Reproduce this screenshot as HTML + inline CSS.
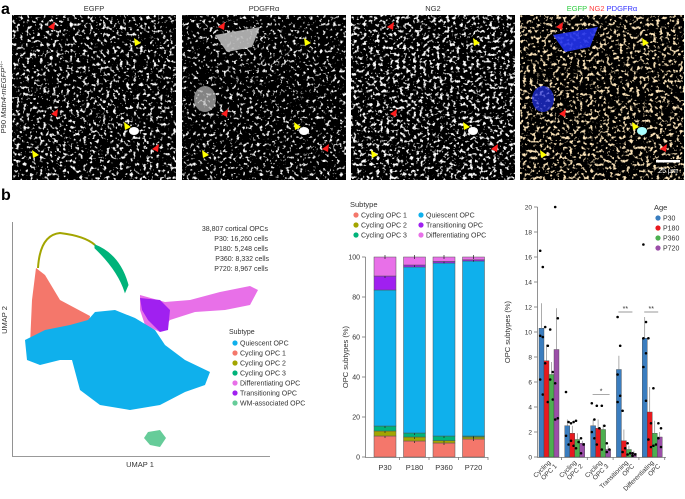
<!DOCTYPE html>
<html><head><meta charset="utf-8">
<style>
body{margin:0;background:#fff;width:685px;height:499px;overflow:hidden;font-family:"Liberation Sans",sans-serif}
svg{display:block}
text{font-family:"Liberation Sans",sans-serif;fill:#333}
</style></head><body>
<svg id="fig" width="685" height="499" viewBox="0 0 685 499">
<defs>
<filter id="fgray" x="0" y="0" width="100%" height="100%">
<feTurbulence type="fractalNoise" baseFrequency="0.3" numOctaves="2" seed="3"/>
<feColorMatrix type="matrix" values="1 0 0 0 0 1 0 0 0 0 1 0 0 0 0 0 0 0 0 1"/>
<feComponentTransfer><feFuncR type="linear" slope="6" intercept="-3.5"/><feFuncG type="linear" slope="6" intercept="-3.5"/><feFuncB type="linear" slope="6" intercept="-3.5"/><feFuncA type="linear" slope="0" intercept="1"/></feComponentTransfer>
</filter>
<filter id="fgray2" x="0" y="0" width="100%" height="100%">
<feTurbulence type="fractalNoise" baseFrequency="0.3" numOctaves="2" seed="7"/>
<feColorMatrix type="matrix" values="1 0 0 0 0 1 0 0 0 0 1 0 0 0 0 0 0 0 0 1"/>
<feComponentTransfer><feFuncR type="linear" slope="6" intercept="-3.6"/><feFuncG type="linear" slope="6" intercept="-3.6"/><feFuncB type="linear" slope="6" intercept="-3.6"/><feFuncA type="linear" slope="0" intercept="1"/></feComponentTransfer>
</filter>
<filter id="fgray3" x="0" y="0" width="100%" height="100%">
<feTurbulence type="fractalNoise" baseFrequency="0.3" numOctaves="2" seed="11"/>
<feColorMatrix type="matrix" values="1 0 0 0 0 1 0 0 0 0 1 0 0 0 0 0 0 0 0 1"/>
<feComponentTransfer><feFuncR type="linear" slope="6" intercept="-3.4"/><feFuncG type="linear" slope="6" intercept="-3.4"/><feFuncB type="linear" slope="6" intercept="-3.4"/><feFuncA type="linear" slope="0" intercept="1"/></feComponentTransfer>
</filter>
<filter id="fcol" x="0" y="0" width="100%" height="100%">
<feTurbulence type="fractalNoise" baseFrequency="0.3" numOctaves="2" seed="5"/>
<feColorMatrix type="matrix" values="1 0 0 0 0 1 0 0 0 0 1 0 0 0 0 0 0 0 0 1"/>
<feComponentTransfer><feFuncR type="linear" slope="6" intercept="-3.4"/><feFuncG type="linear" slope="6" intercept="-3.4"/><feFuncB type="linear" slope="6" intercept="-3.4"/><feFuncA type="linear" slope="0" intercept="1"/></feComponentTransfer>
<feColorMatrix type="matrix" values="1 0 0 0 0 0 0.8 0 0 0 0 0 0.5 0 0 0 0 0 0 1"/>
</filter>
</defs>

<text x="1" y="14" font-size="16" font-weight="bold" style="fill:#000">a</text>
<text x="6" y="97" font-size="7.5" transform="rotate(-90 6 97)" text-anchor="middle">P90 <tspan font-style="italic">Matn4-mEGFP</tspan><tspan font-size="5" dy="-3">+/−</tspan></text>
<text x="94" y="11" font-size="7.5" text-anchor="middle">EGFP</text>
<text x="264" y="11" font-size="7.5" text-anchor="middle">PDGFRα</text>
<text x="433" y="11" font-size="7.5" text-anchor="middle">NG2</text>
<text x="602" y="11" font-size="7.5" text-anchor="middle"><tspan style="fill:#2ecc40">EGFP</tspan> <tspan style="fill:#ff4040">NG2</tspan> <tspan style="fill:#3333ff">PDGFRα</tspan></text>
<g id="panels"></g>

<text x="1" y="200" font-size="16" font-weight="bold" style="fill:#000">b</text>
<g id="umap">
<line x1="12.5" y1="222" x2="12.5" y2="456" stroke="#777" stroke-width="0.8"/>
<line x1="12" y1="456.5" x2="270" y2="456.5" stroke="#777" stroke-width="0.8"/>
<text x="7" y="320" font-size="7.5" text-anchor="middle" transform="rotate(-90 7 320)">UMAP 2</text>
<text x="140" y="467" font-size="7.5" text-anchor="middle">UMAP 1</text>
<path d="M38,268 Q40,235 60,233 Q85,236 95,245" fill="none" stroke="#a3a500" stroke-width="2"/>
<path d="M95,245 Q120,255 128,285 L125,292 Q118,270 95,248Z" fill="#00b37a" stroke="#00b37a" stroke-width="1"/>
<path d="M36,268 L45,275 L60,300 L90,316 L88,330 L70,335 L45,340 L30,345 L32,300Z" fill="#f4776b"/>
<path d="M140,295 L165,302 L190,300 L220,292 L250,286 L258,290 L250,305 L225,310 L195,312 L170,320 L160,332 L145,325 L140,310Z" fill="#e870e8"/>
<path d="M140,298 L160,300 L170,310 L168,330 L160,332 L148,320 L142,310Z" fill="#a020f0"/>
<path d="M95,312 L115,310 L135,318 L155,330 L165,345 L185,360 L210,372 L205,385 L185,392 L160,405 L130,410 L100,405 L80,390 L72,360 L60,360 L40,365 L27,360 L25,340 L45,330 L70,325 L88,320Z" fill="#0fb0ec"/>
<path d="M148,432 L160,430 L166,438 L160,447 L150,445 L144,438Z" fill="#66cc99"/>
<g font-size="7" text-anchor="end">
<text x="268" y="231">38,807 cortical OPCs</text>
<text x="268" y="241">P30: 16,260 cells</text>
<text x="268" y="251">P180: 5,248 cells</text>
<text x="269" y="261">P360: 8,332 cells</text>
<text x="268" y="271">P720: 8,967 cells</text>
</g>
<g id="umapLegend" font-size="7">
<text x="229" y="334">Subtype</text>
</g>
</g>

<g id="stack"></g>
<g id="dots"></g>
</svg>
<script>
const NS='http://www.w3.org/2000/svg';
function mk(parent,tag,attrs,txt){const e=document.createElementNS(NS,tag);for(const k in attrs)e.setAttribute(k,attrs[k]);if(txt!==undefined)e.textContent=txt;parent.appendChild(e);return e;}

const panelsG=document.getElementById('panels');
const panelX=[12,182,351,520];
const filters=['fgray','fgray2','fgray3','fcol'];
const redArrows=[[36,9],[39,96],[140,131]];
const yelArrows=[[121,25],[111,109],[19,137]];
panelX.forEach((px,i)=>{
  const g=mk(panelsG,'g',{});
  
  
  mk(g,'rect',{x:px,y:15,width:164,height:165,fill:'#000'});
  mk(g,'rect',{x:px,y:15,width:164,height:165,filter:'url(#'+filters[i]+')'});
  if(i===1||i===3){
    const c=i===1?'#bbbbbb':'#2233ee';
    mk(g,'path',{d:`M${px+33},${15+20} L${px+78},${15+12} L${px+70},${15+32} L${px+45},${15+37} Z`,fill:c,opacity:0.9});
    mk(g,'ellipse',{cx:px+23,cy:15+84,rx:11,ry:13,fill:c,opacity:0.7});
  }
  mk(g,'ellipse',{cx:px+122,cy:15+116,rx:5,ry:4,fill:i===3?'#aaffff':'#fff'});
  redArrows.forEach(([ax,ay])=>{
    const a=mk(g,'path',{d:`M${px+ax},${15+ay+3} l7,-5 l-1,8 Z`,fill:'#ff1e1e'});
    
    
  });
  yelArrows.forEach(([ax,ay])=>{
    const a=mk(g,'path',{d:`M${px+ax+8},${15+ay+3} l-7,-5 l1,8 Z`,fill:'#ffff00'});
    
    
  });
});
const sb=mk(panelsG,'rect',{x:656,y:160,width:24,height:2.5,fill:'#fff'});


const sbt=mk(panelsG,'text',{x:668,y:173,'font-size':7,'text-anchor':'middle',style:'fill:#fff'},'25 μm');



const umapNames=['Quiescent OPC','Cycling OPC 1','Cycling OPC 2','Cycling OPC 3','Differentiating OPC','Transitioning OPC','WM-associated OPC'];
const umapCols=['#0fb0ec','#f4776b','#a3a500','#00b37a','#e870e8','#a020f0','#66cc99'];
const ul=document.getElementById('umapLegend');
umapNames.forEach((n,i)=>{
  const g=mk(ul,'g',{});
  
  
  mk(g,'circle',{cx:235,cy:343+i*10,r:2.6,fill:umapCols[i]});
  mk(g,'text',{x:240,y:345.5+i*10},n);
});

const stackAges=['P30','P180','P360','P720'];
const stackSubtypes=['Cycling OPC 1','Cycling OPC 2','Cycling OPC 3','Quiescent OPC','Transitioning OPC','Differentiating OPC'];
const stackC1=[10.5,8,7,9];
const stackC2=[2.5,2,1.2,1];
const stackC3=[2.5,2,2.3,0.5];
const stackQ=[68,83,86.5,87.5];
const stackT=[7,1,0.8,0.6];
const stackD=[9.5,4,2.2,1.4];
const stackTicks=[0,20,40,60,80,100];
const stackCols=['#f4776b','#a3a500','#00b37a','#0fb0ec','#a020f0','#e870e8'];
const S=document.getElementById('stack');
const sy=v=>457-v*2.0, sx0=374, sStep=29.5, sW=22;
mk(S,'line',{x1:365.5,y1:257,x2:365.5,y2:457,stroke:'#777','stroke-width':0.8});
mk(S,'line',{x1:365,y1:457.5,x2:488,y2:457.5,stroke:'#777','stroke-width':0.8});
stackTicks.forEach(t=>{
  mk(S,'line',{x1:362,y1:sy(t),x2:365.5,y2:sy(t),stroke:'#777','stroke-width':0.8});
  const tl=mk(S,'text',{x:360,y:sy(t)+2.5,'font-size':7,'text-anchor':'end'},t);
  
  
});
const syt=mk(S,'text',{x:348,y:357,'font-size':7.5,'text-anchor':'middle',transform:'rotate(-90 348 357)'},'OPC subtypes (%)');


const stackSeries=[stackC1,stackC2,stackC3,stackQ,stackT,stackD];
stackAges.forEach((a,i)=>{
  const x=sx0+i*sStep;let cum=0;
  stackSeries.forEach((ser,j)=>{
    const v=ser[i];
    const r=mk(S,'rect',{x:x,y:sy(cum+v),width:sW,height:v*2,fill:stackCols[j],stroke:'#555','stroke-width':0.5});
    
    
    cum+=v;
    if(j!==3){mk(S,'line',{x1:x+sW/2,y1:sy(cum)-2,x2:x+sW/2,y2:sy(cum)+2,stroke:'#222','stroke-width':0.7});}
  });
  mk(S,'line',{x1:x+sW+3.5,y1:457,x2:x+sW+3.5,y2:460,stroke:'#777','stroke-width':0.8});
  const xl=mk(S,'text',{x:x+sW/2,y:470,'font-size':7.5,'text-anchor':'middle'},a);
  
  
});
const sLeg=mk(S,'g',{'font-size':7});


mk(sLeg,'text',{x:350,y:207,'font-size':7.5},'Subtype');
const legOrder=[[0,0],[1,0],[2,0],[3,1],[4,1],[5,1]];
const legRowI=[0,1,2,0,1,2];
legOrder.forEach(([j,col],k)=>{
  const g=mk(sLeg,'g',{});
  
  
  const cx=col?421:356, cy=215+legRowI[k]*10;
  mk(g,'circle',{cx:cx,cy:cy,r:2.6,fill:stackCols[j]});
  mk(g,'text',{x:cx+5,y:cy+2.5},stackSubtypes[j]);
});

const dotGroups=['Cycling OPC 1','Cycling OPC 2','Cycling OPC 3','Transitioning OPC','Differentiating OPC'];
const dotAges=['P30','P180','P360','P720'];
const meanP30=[10.3,2.5,2.5,7.0,9.5];
const meanP180=[7.7,1.9,2.3,1.3,3.6];
const meanP360=[6.6,1.4,2.2,0.6,1.9];
const meanP720=[8.6,1.1,0.6,0.3,1.6];
const errP30=[12.3,3.0,3.0,8.1,11.2];
const errP180=[9.0,2.5,3.0,2.2,5.6];
const errP360=[7.6,1.9,2.6,0.9,2.9];
const errP720=[11.9,1.3,0.9,0.5,2.0];
const ptsP30=[[16.5,15.2,9.7,9.6,6.2,5.0],[5.2,2.8,1.7,1.0],[4.3,3.0,2.0,1.5],[11.2,8.9,6.6,4.9,4.4],[17,10.8,9.5,8.3,7.2,4.5]];
const ptsP180=[[10.4,8.9,7.5,4.4],[2.7,2.8,1.3,0.9],[4.1,2.3,1.0],[3.7,0.7,0.4],[9.5,2.7,1.4,0.8]];
const ptsP360=[[10.2,6.8,6.2,4.6],[2.9,1.2,0.7],[4.1,2.5,0.6],[1.1,0.3,0.2],[5.5,1.0,0.9]];
const ptsP720=[[20,11.1,5.9,3.1,3.0],[1.5,1.0,0.3],[1.1,0.6,0.4],[0.3,0.2,0.1],[2.7,2.3,1.5,0.8]];
const dotTicks=[0,2,4,6,8,10,12,14,16,18,20];
const sigLabels=['','','*','**','**'];
const sigY=[0,0,5.0,11.6,11.6];
const ageCols=['#3a7dbf','#e8191e','#4caf50','#9b4ea8'];
const D=document.getElementById('dots');
const dy=v=>457-v*12.5, gx0=539, gStep=25.8, bW=5;
mk(D,'line',{x1:537.5,y1:207,x2:537.5,y2:457,stroke:'#777','stroke-width':0.8});
mk(D,'line',{x1:537,y1:457.5,x2:666,y2:457.5,stroke:'#777','stroke-width':0.8});
dotTicks.forEach(t=>{
  mk(D,'line',{x1:534,y1:dy(t),x2:537.5,y2:dy(t),stroke:'#777','stroke-width':0.8});
  const tl=mk(D,'text',{x:532,y:dy(t)+2.5,'font-size':6.5,'text-anchor':'end'},t);
  
  
});
const dyt=mk(D,'text',{x:510,y:332,'font-size':7.5,'text-anchor':'middle',transform:'rotate(-90 510 332)'},'OPC subtypes (%)');


const means=[meanP30,meanP180,meanP360,meanP720];
const errs=[errP30,errP180,errP360,errP720];
const pts=[ptsP30,ptsP180,ptsP360,ptsP720];
dotGroups.forEach((gname,gi)=>{
  const gx=gx0+gi*gStep;
  dotAges.forEach((a,ai)=>{
    const x=gx+ai*bW, m=means[ai][gi];
    const r=mk(D,'rect',{x:x,y:dy(m),width:bW,height:m*12.5,fill:ageCols[ai],stroke:'#444','stroke-width':0.4});
    
    
    mk(D,'line',{x1:x+bW/2,y1:dy(m),x2:x+bW/2,y2:dy(errs[ai][gi]),stroke:'#888','stroke-width':0.7});
    pts[ai][gi].forEach((p,k)=>{
      const c=mk(D,'circle',{cx:x+bW/2+((k%2)?1.3:-1.3),cy:dy(p),r:1.3,fill:'#000'});
      
      
    });
  });
  mk(D,'line',{x1:gx+22.5,y1:457,x2:gx+22.5,y2:460,stroke:'#777','stroke-width':0.8});
  const words=gname.split(' ');
  const l1=words[0], l2=words.slice(1).join(' ');
  const tx=gx+12, ty=463;
  const lab=mk(D,'text',{x:tx,y:ty,'font-size':6.5,'text-anchor':'end',transform:`rotate(-45 ${tx} ${ty})`});
  
  
  mk(lab,'tspan',{x:tx,dy:0},l1);
  mk(lab,'tspan',{x:tx+2,dy:7},l2);
  if(sigLabels[gi]){
    const x1=gx+2;
    const xe=gi===2?gx+19:gx+16;
    mk(D,'line',{x1:x1,y1:dy(sigY[gi]),x2:xe,y2:dy(sigY[gi]),stroke:'#555','stroke-width':0.6});
    const st=mk(D,'text',{x:(x1+xe)/2,y:dy(sigY[gi])-1,'font-size':7,'text-anchor':'middle'},sigLabels[gi]);
    
    
  }
});
const aLeg=mk(D,'g',{'font-size':7});


mk(aLeg,'text',{x:654,y:210,'font-size':7.5},'Age');
dotAges.forEach((a,i)=>{
  const g=mk(aLeg,'g',{});
  
  
  mk(g,'circle',{cx:658,cy:218+i*10,r:2.6,fill:ageCols[i]});
  mk(g,'text',{x:663,y:220.5+i*10},a);
});
</script>
</body></html>
